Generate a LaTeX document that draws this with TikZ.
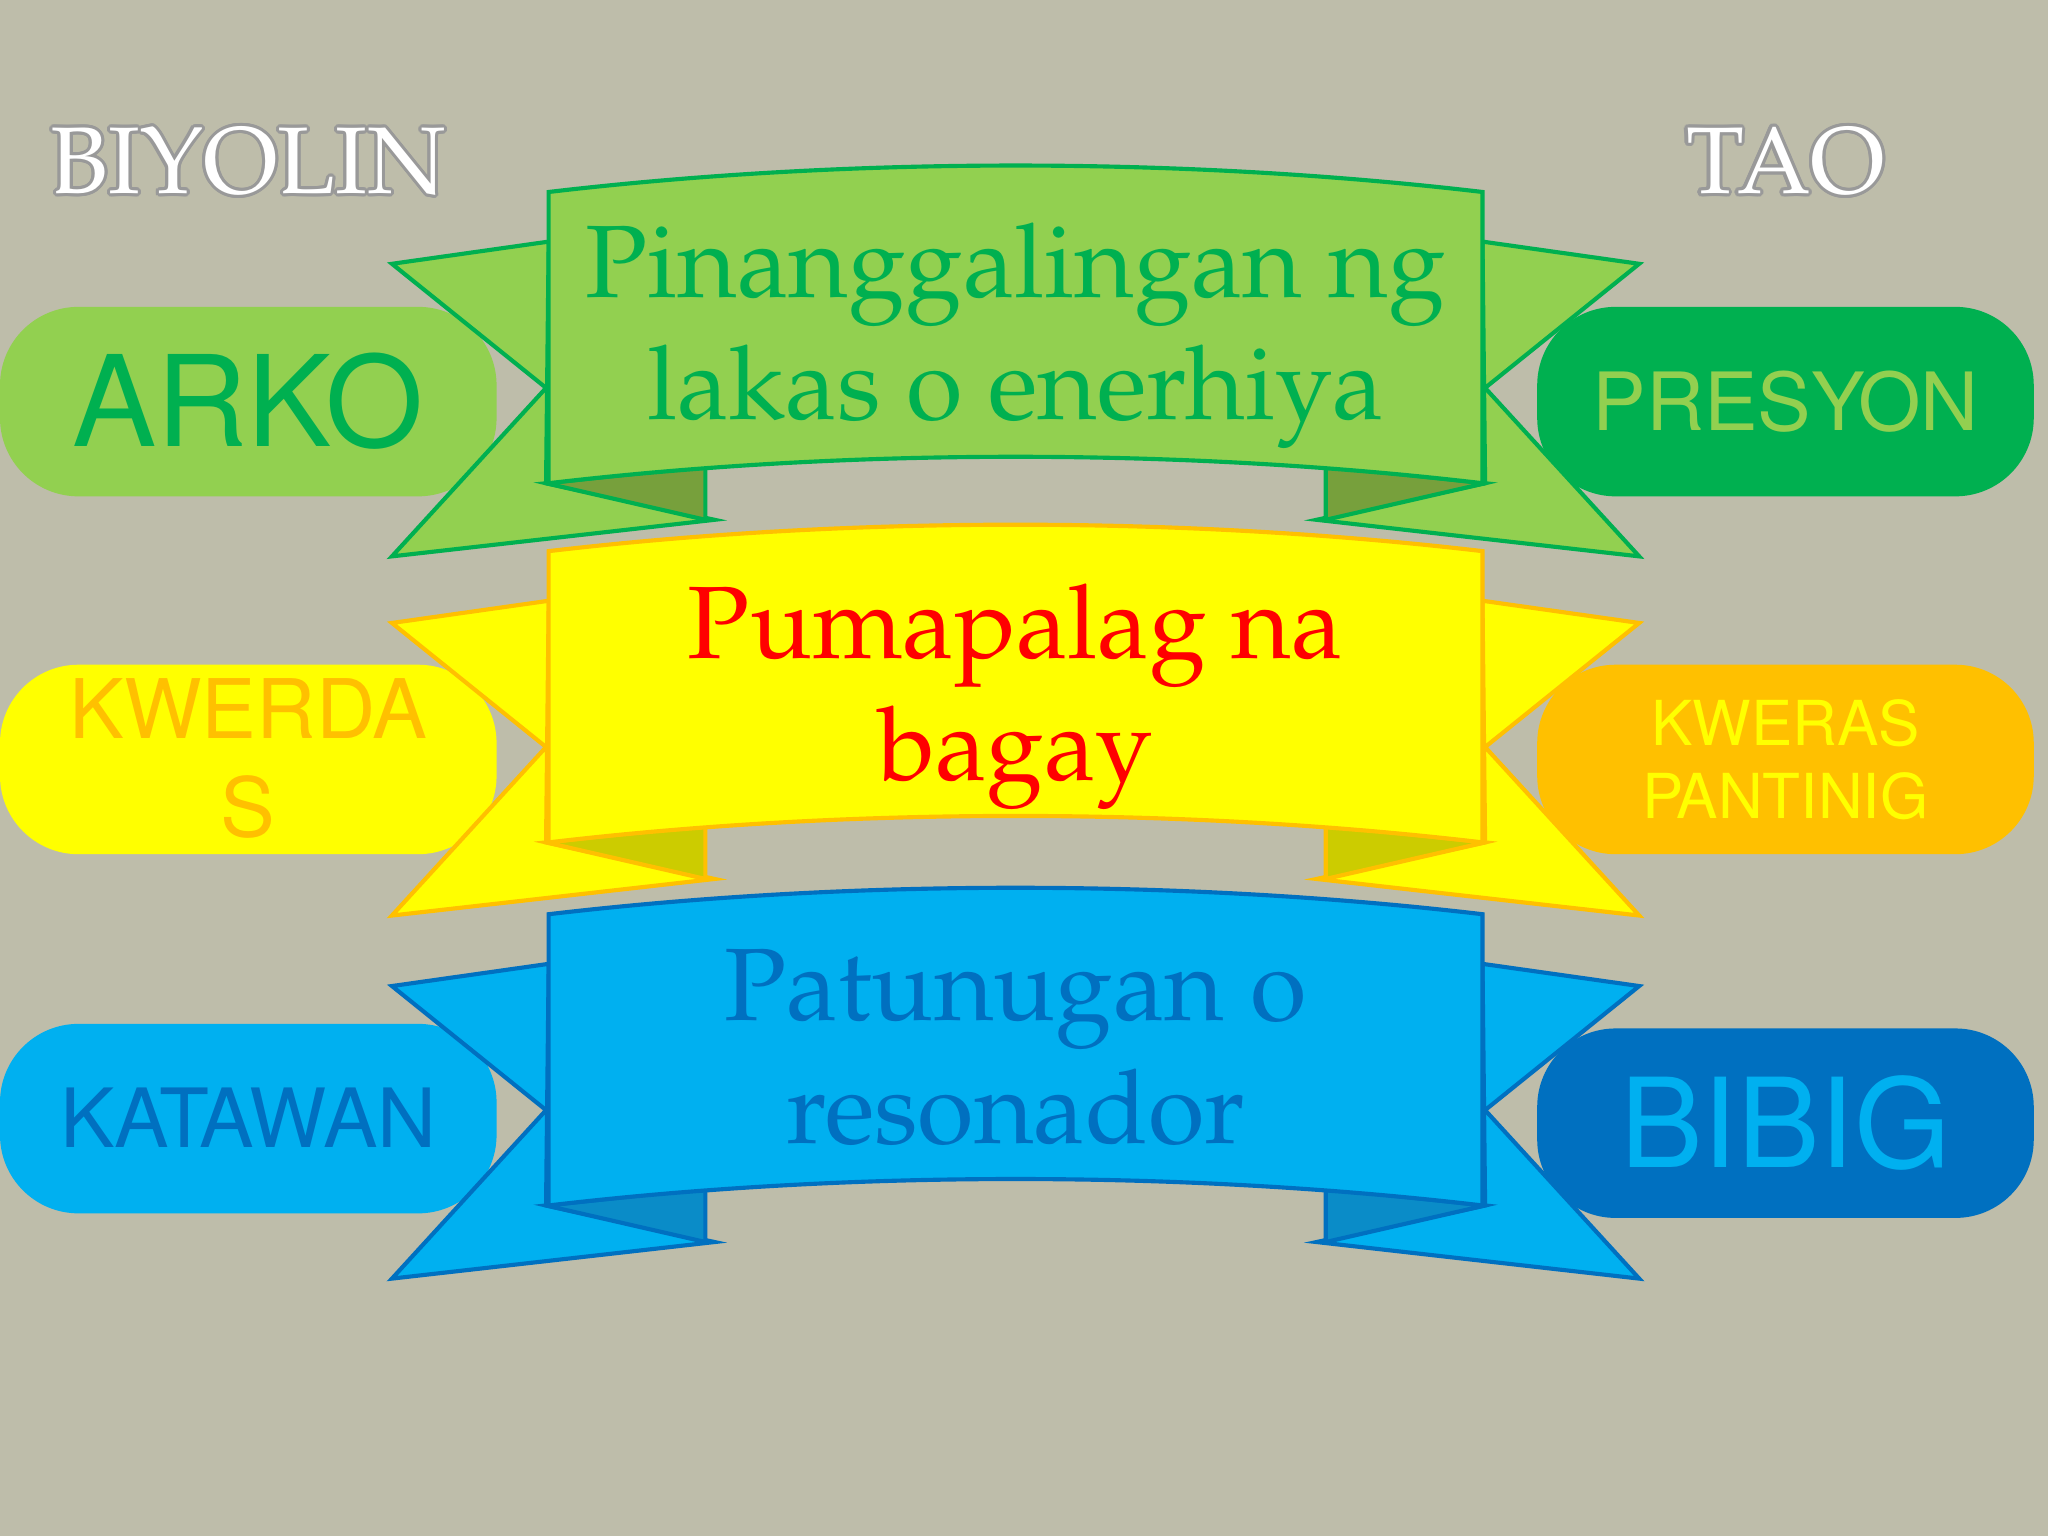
\documentclass[tikz,border=0pt]{standalone}
\usepackage[T1]{fontenc}
\renewcommand{\rmdefault}{ppl}
\renewcommand{\sfdefault}{phv}
\usepackage{contour}
\contourlength{0.7pt}

\definecolor{bgtan}{RGB}{190,189,170}
\definecolor{lgreen}{HTML}{92D050}
\definecolor{dgreen}{HTML}{00B050}
\definecolor{fgreen}{HTML}{77A03C}
\definecolor{lyellow}{HTML}{FFFF00}
\definecolor{kgold}{HTML}{FFC000}
\definecolor{fyellow}{HTML}{CCCC00}
\definecolor{lblue}{HTML}{00B0F0}
\definecolor{dblue}{HTML}{0070C0}
\definecolor{fblue}{HTML}{0A8CC8}

\tikzstyle{pill} = [rectangle, rounded corners=0.6cm, minimum width=3.8cm, minimum height=1.45cm, inner sep=0pt, align=center, font=\sffamily]
\tikzstyle{bannertext} = [align=center, font=\fontsize{22.4}{26.7}\selectfont]
\tikzstyle{title} = [anchor=base, text=white, font=\fontsize{20.6}{24}\selectfont]

% ribbon: #1 shift down, #2 fill, #3 line, #4 fold
\newcommand{\ribbon}[4]{%
  \begin{scope}[shift={(0,#1)}, draw=#3, line width=0.9pt]
    \filldraw[fill=#2] (420,185) -- (300,202) -- (418,297) -- (300,426) -- (547,398) -- (418,370) -- cycle;
    \filldraw[fill=#4] (418,370) -- (540,357) -- (540,398) -- cycle;
    \filldraw[fill=#2] (1135,185) -- (1255,202) -- (1137,297) -- (1255,426) -- (1008,398) -- (1137,370) -- cycle;
    \filldraw[fill=#4] (1137,370) -- (1015,357) -- (1015,398) -- cycle;
    \filldraw[fill=#2] (420,147) .. controls (650,120) and (905,120) .. (1135,147) -- (1135,370) .. controls (905,343) and (650,343) .. (420,370) -- cycle;
  \end{scope}}

\begin{document}
\begin{tikzpicture}[x=0.01cm, y=-0.01cm]

\fill[bgtan] (0,0) rectangle (1568,1176);

% Titles
\node (biyolin) [title] at (190,148) {\contour{gray!80}{BIYOLIN}};
\node (tao) [title] at (1367,148) {\contour{gray!80}{TAO}};

% Side nodes
\node (arko) [pill, fill=lgreen, text=dgreen, font=\sffamily\fontsize{27.5}{30}\selectfont] at (190,307.5) {ARKO};
\node (presyon) [pill, fill=dgreen, text=lgreen, font=\sffamily\fontsize{17.5}{20}\selectfont] at (1367,307.5) {PRESYON};
\node (kwerdas) [pill, fill=lyellow, text=kgold, font=\sffamily\fontsize{17.9}{21.3}\selectfont] at (190,581.5) {KWERDA\\S};
\node (kweras) [pill, fill=kgold, text=lyellow, font=\sffamily\fontsize{13.5}{15.9}\selectfont] at (1367,581.5) {KWERAS\\PANTINIG};
\node (katawan) [pill, fill=lblue, text=dblue, font=\sffamily\fontsize{17.8}{20}\selectfont] at (190,856.5) {KATAWAN};
\node (bibig) [pill, fill=dblue, text=lblue, font=\sffamily\fontsize{27}{30}\selectfont] at (1367,860) {BIBIG};

% Ribbons
\ribbon{0}{lgreen}{dgreen}{fgreen}
\ribbon{275}{lyellow}{kgold}{fyellow}
\ribbon{553}{lblue}{dblue}{fblue}

% Ribbon texts
\node (source) [bannertext, text=dgreen] at (777.5,257) {Pinanggalingan ng\\lakas o enerhiya};
\node (vibrator) [bannertext, text=red] at (777.5,533.5) {Pumapalag na\\bagay};
\node (resonator) [bannertext, text=dblue] at (777.5,802) {Patunugan o\\resonador};

\end{tikzpicture}
\end{document}
